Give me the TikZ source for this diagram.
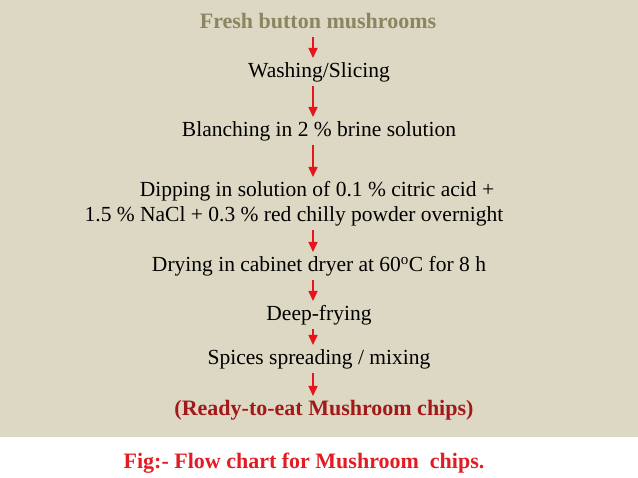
\documentclass[tikz,border=0pt]{standalone}
\usepackage{fontspec}
\setmainfont{Liberation Serif}
\usetikzlibrary{arrows.meta, calc}

\definecolor{slidebg}{HTML}{DCD8C3}
\definecolor{olivetext}{HTML}{8B8561}
\definecolor{darkred}{HTML}{A31818}
\definecolor{figred}{HTML}{E31B23}
\definecolor{arrowred}{HTML}{E8141B}

\tikzset{
  stage/.style={anchor=base, inner sep=2pt, font=\fontsize{21.5}{25}\selectfont},
  boldstage/.style={stage, font=\fontsize{22}{25}\selectfont\bfseries},
  flowarrow/.style={draw=arrowred, line width=1.5pt, -{Triangle[length=10pt,width=9pt]}}
}
% arrow from below one text line to above the next one
\newcommand{\flowstep}[2]{\draw[flowarrow] ($(#1.base -| axis)+(0,8)$) -- ($(#2.base -| axis)+(0,-20)$);}

\begin{document}
\begin{tikzpicture}[x=1pt, y=-1pt]
	\useasboundingbox (0,0) rectangle (638,478);
	\fill[slidebg] (0,0) rectangle (638,437);
	% \draw[help lines, step=50] (0,0) grid (638,478);
	\coordinate (axis) at (313,0);

	\node[boldstage, text=olivetext] (fresh) at (318,29) {Fresh button mushrooms};
	\node[stage] (wash) at (319,78) {Washing/Slicing};
	\node[stage] (blanch) at (319,137) {Blanching in 2 \% brine solution};
	\node[stage] (dipa) at (317,197) {Dipping in solution of 0.1 \% citric acid +};
	\node[stage] (dipb) at (294,222) {1.5 \% NaCl + 0.3 \% red chilly powder overnight};
	\node[stage] (dry) at (319,272) {Drying in cabinet dryer at 60\textsuperscript{o}C for 8 h};
	\node[stage] (fry) at (319,321) {Deep-frying};
	\node[stage] (spice) at (319,365) {Spices spreading / mixing};
	\node[boldstage, text=darkred] (chips) at (324,416) {(Ready-to-eat Mushroom chips)};

	\node[boldstage, text=figred] (caption) at (304,469) {Fig:- Flow chart for Mushroom\ \ chips.};

	\flowstep{fresh}{wash}
	\flowstep{wash}{blanch}
	\flowstep{blanch}{dipa}
	\flowstep{dipb}{dry}
	\flowstep{dry}{fry}
	\flowstep{fry}{spice}
	\flowstep{spice}{chips}
\end{tikzpicture}
\end{document}
